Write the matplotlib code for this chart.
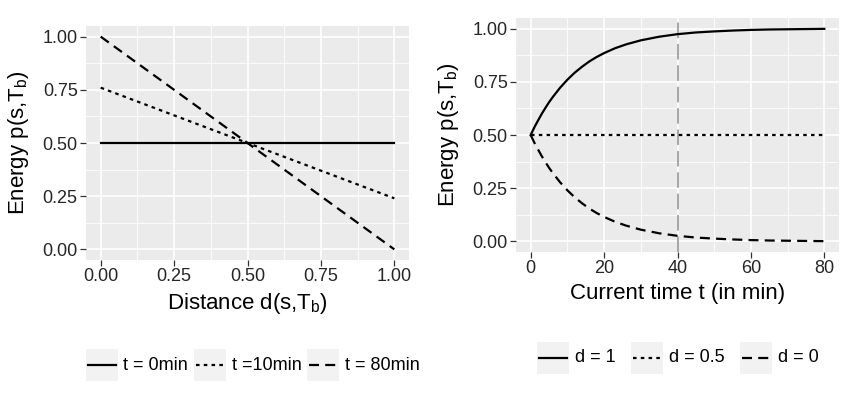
import matplotlib
matplotlib.use("Agg")
import matplotlib.pyplot as plt
from matplotlib.lines import Line2D
from matplotlib.patches import Rectangle
from matplotlib.ticker import MultipleLocator

plt.rcParams['font.family'] = ['Liberation Sans', 'DejaVu Sans']

# left panel: energy vs distance
distance = [0.0, 1.0]
e_t0 = [0.50, 0.50]
e_t10 = [0.76, 0.24]
e_t80 = [1.00, 0.00]
left_labels = ["t = 0min", "t =10min", "t = 80min"]

# right panel: energy vs time
time_min = [0, 1, 2, 3, 4, 5, 6, 8, 10, 12, 14, 16, 18, 20, 23, 26, 30, 35,
            40, 45, 50, 55, 60, 65, 70, 75, 80]
e_d1 = [0.500, 0.536, 0.568, 0.599, 0.627, 0.654, 0.678, 0.722, 0.760, 0.793,
        0.821, 0.846, 0.867, 0.885, 0.908, 0.926, 0.945, 0.962, 0.974, 0.982,
        0.987, 0.991, 0.994, 0.996, 0.997, 0.998, 0.999]
e_d05 = [0.5] * len(time_min)
e_d0 = [0.500, 0.464, 0.432, 0.401, 0.373, 0.346, 0.322, 0.278, 0.240, 0.207,
        0.179, 0.154, 0.133, 0.115, 0.092, 0.074, 0.055, 0.038, 0.026, 0.018,
        0.013, 0.009, 0.006, 0.004, 0.003, 0.002, 0.001]
right_labels = ["d = 1", "d = 0.5", "d = 0"]
t_marker = 40

W, H = 865, 393
LW = 1.6
TICK_FS = 13
TITLE_FS = 16
styles = [dict(linestyle='-'),
          dict(linestyle=(0, (1.6, 1.9))),
          dict(linestyle=(0, (4.5, 2.8)))]

fig = plt.figure(figsize=(W / 100, H / 100), dpi=100)


def px(x, y):
    return x / W, 1 - y / H


def gg_axes(rect):
    ax = fig.add_axes(rect)
    ax.set_facecolor('#EBEBEB')
    for s in ax.spines.values():
        s.set_visible(False)
    ax.grid(True, which='major', color='white', linewidth=1.2)
    ax.grid(True, which='minor', color='white', linewidth=0.6)
    ax.set_axisbelow(True)
    ax.tick_params(which='major', length=4, width=0.9, color='#333333',
                   labelsize=TICK_FS, labelcolor='#262626', pad=2)
    ax.tick_params(which='minor', length=0)
    return ax


ax1 = gg_axes([86 / W, 1 - 260 / H, 323 / W, 234 / H])
for y, st in zip([e_t0, e_t10, e_t80], styles):
    ax1.plot(distance, y, color='black', linewidth=LW, **st)
ax1.set_xlim(-0.05, 1.05)
ax1.set_ylim(-0.05, 1.05)
ax1.xaxis.set_major_locator(MultipleLocator(0.25))
ax1.xaxis.set_minor_locator(MultipleLocator(0.125))
ax1.yaxis.set_major_locator(MultipleLocator(0.25))
ax1.yaxis.set_minor_locator(MultipleLocator(0.125))
ax1.xaxis.set_major_formatter(lambda v, p: f"{v:.2f}")
ax1.yaxis.set_major_formatter(lambda v, p: f"{v:.2f}")
ax1.set_xlabel(r"Distance d(s,T$_\mathregular{b}$)", fontsize=TITLE_FS, labelpad=4)
ax1.set_ylabel(r"Energy p(s,T$_\mathregular{b}$)", fontsize=TITLE_FS, labelpad=8)

ax2 = gg_axes([516 / W, 1 - 252 / H, 323 / W, 234 / H])
ax2.axvline(t_marker, color='#A6A6A6', linewidth=1.4, linestyle=(0, (8, 3)))
for y, st in zip([e_d1, e_d05, e_d0], styles):
    ax2.plot(time_min, y, color='black', linewidth=LW, **st)
ax2.set_xlim(-4, 84)
ax2.set_ylim(-0.05, 1.05)
ax2.xaxis.set_major_locator(MultipleLocator(20))
ax2.xaxis.set_minor_locator(MultipleLocator(10))
ax2.yaxis.set_major_locator(MultipleLocator(0.25))
ax2.yaxis.set_minor_locator(MultipleLocator(0.125))
ax2.yaxis.set_major_formatter(lambda v, p: f"{v:.2f}")
ax2.set_xlabel("Current time t (in min)", fontsize=TITLE_FS, labelpad=4)
ax2.set_ylabel(r"Energy p(s,T$_\mathregular{b}$)", fontsize=TITLE_FS, labelpad=8)


def legend(keys_x, text_x, y_top, labels):
    for kx, tx, lab, st in zip(keys_x, text_x, labels, styles):
        x0, y0 = px(kx, y_top + 32)
        fig.add_artist(Rectangle((x0, y0), 32 / W, 32 / H, transform=fig.transFigure,
                                 facecolor='#F2F2F2', edgecolor='none'))
        xa, yc = px(kx + 2, y_top + 16)
        xb, _ = px(kx + 30, y_top + 16)
        fig.add_artist(Line2D([xa, xb], [yc, yc], transform=fig.transFigure,
                              color='black', linewidth=LW, **st))
        tx0, ty = px(tx, y_top + 16)
        fig.text(tx0, ty, lab, fontsize=TICK_FS, va='center', ha='left', color='black')


legend([86, 194, 307], [123, 232, 345], 349, left_labels)
legend([537, 631, 740], [575, 669, 778], 342, right_labels)

fig.savefig("out.png", dpi=100, facecolor='white')
